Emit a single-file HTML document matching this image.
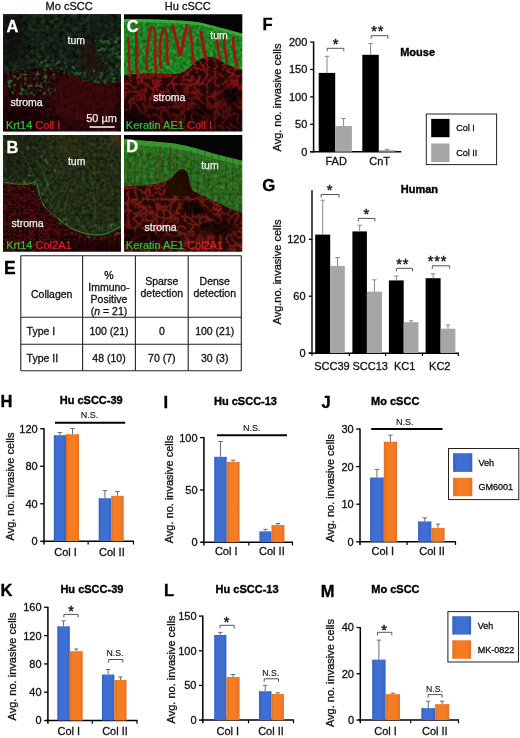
<!DOCTYPE html>
<html><head><meta charset="utf-8"><title>Figure</title>
<style>html,body{margin:0;padding:0;background:#fff;}body{width:520px;height:738px;overflow:hidden;}svg{display:block;}</style>
</head><body>
<svg width="520" height="738" viewBox="0 0 520 738" font-family="'Liberation Sans', Arial, Helvetica, sans-serif">
<defs>
<linearGradient id="gb" x1="0" x2="1" y1="0" y2="0"><stop offset="0" stop-color="#3462bd"/><stop offset="0.25" stop-color="#3f6fd2"/><stop offset="0.75" stop-color="#3f6fd2"/><stop offset="1" stop-color="#3462bd"/></linearGradient>
<linearGradient id="go" x1="0" x2="1" y1="0" y2="0"><stop offset="0" stop-color="#e0702a"/><stop offset="0.25" stop-color="#f57c22"/><stop offset="0.75" stop-color="#f57c22"/><stop offset="1" stop-color="#e0702a"/></linearGradient>
</defs>
<rect x="0" y="0" width="520" height="738" fill="#fff" />
<text x="69.1" y="9.7" font-size="11" font-weight="400" text-anchor="middle" fill="#111" stroke="#111" stroke-width="0.3" >Mo cSCC</text>
<text x="187.7" y="9.7" font-size="11" font-weight="400" text-anchor="middle" fill="#111" stroke="#111" stroke-width="0.3" >Hu cSCC</text>
<g id="micro"><defs>
<filter id="bAgrn" x="0" y="0" width="1" height="1" filterUnits="objectBoundingBox" color-interpolation-filters="sRGB"><feTurbulence type="fractalNoise" baseFrequency="0.25" numOctaves="2" seed="31"/><feColorMatrix type="matrix" values="0 0 0 0 0.157  0 0 0 0 0.392  0 0 0 0 0.176  4 0 0 0 -2.000"/></filter>
<filter id="bAred" x="0" y="0" width="1" height="1" filterUnits="objectBoundingBox" color-interpolation-filters="sRGB"><feTurbulence type="fractalNoise" baseFrequency="0.3" numOctaves="2" seed="32"/><feColorMatrix type="matrix" values="0 0 0 0 0.431  0 0 0 0 0.078  0 0 0 0 0.086  6 0 0 0 -3.480"/></filter>
<filter id="bBgrn" x="0" y="0" width="1" height="1" filterUnits="objectBoundingBox" color-interpolation-filters="sRGB"><feTurbulence type="fractalNoise" baseFrequency="0.22" numOctaves="2" seed="33"/><feColorMatrix type="matrix" values="0 0 0 0 0.176  0 0 0 0 0.451  0 0 0 0 0.188  3.5 0 0 0 -1.925"/></filter>
<filter id="nAstr" x="0" y="0" width="1" height="1" filterUnits="objectBoundingBox" color-interpolation-filters="sRGB"><feTurbulence type="turbulence" baseFrequency="0.2" numOctaves="2" seed="35"/><feColorMatrix type="matrix" values="-0.900 0 0 0 0.333  -0.100 0 0 0 0.047  -0.100 0 0 0 0.055  0 0 0 0 1"/><feGaussianBlur stdDeviation="0.6"/></filter>
<filter id="nBstr" x="0" y="0" width="1" height="1" filterUnits="objectBoundingBox" color-interpolation-filters="sRGB"><feTurbulence type="turbulence" baseFrequency="0.2" numOctaves="2" seed="36"/><feColorMatrix type="matrix" values="-1.000 0 0 0 0.392  -0.120 0 0 0 0.055  -0.120 0 0 0 0.063  0 0 0 0 1"/><feGaussianBlur stdDeviation="0.6"/></filter>
<filter id="nCstr" x="0" y="0" width="1" height="1" filterUnits="objectBoundingBox" color-interpolation-filters="sRGB"><feTurbulence type="turbulence" baseFrequency="0.13" numOctaves="2" seed="3"/><feColorMatrix type="matrix" values="-1.250 0 0 0 0.588  -0.200 0 0 0 0.094  -0.180 0 0 0 0.086  0 0 0 0 1"/><feGaussianBlur stdDeviation="0.6"/></filter>
<filter id="nDstr" x="0" y="0" width="1" height="1" filterUnits="objectBoundingBox" color-interpolation-filters="sRGB"><feTurbulence type="turbulence" baseFrequency="0.14" numOctaves="2" seed="21"/><feColorMatrix type="matrix" values="-1.200 0 0 0 0.549  -0.240 0 0 0 0.118  -0.180 0 0 0 0.086  0 0 0 0 1"/><feGaussianBlur stdDeviation="0.6"/></filter>
<filter id="tAtop" x="0" y="0" width="1" height="1" filterUnits="objectBoundingBox" color-interpolation-filters="sRGB"><feTurbulence type="fractalNoise" baseFrequency="0.22" numOctaves="3" seed="2"/><feColorMatrix type="matrix" values="0.140 0 0 0 0.008  0.300 0 0 0 -0.025  0.140 0 0 0 0.012  0 0 0 0 1"/></filter>
<filter id="tAbot" x="0" y="0" width="1" height="1" filterUnits="objectBoundingBox" color-interpolation-filters="sRGB"><feTurbulence type="fractalNoise" baseFrequency="0.25" numOctaves="3" seed="4"/><feColorMatrix type="matrix" values="0.350 0 0 0 -0.034  0.050 0 0 0 -0.001  0.060 0 0 0 0.005  0 0 0 0 1"/></filter>
<filter id="tBtum" x="0" y="0" width="1" height="1" filterUnits="objectBoundingBox" color-interpolation-filters="sRGB"><feTurbulence type="fractalNoise" baseFrequency="0.28" numOctaves="3" seed="6"/><feColorMatrix type="matrix" values="0.180 0 0 0 0.043  0.280 0 0 0 0.033  0.100 0 0 0 0.032  0 0 0 0 1"/></filter>
<filter id="tBstr" x="0" y="0" width="1" height="1" filterUnits="objectBoundingBox" color-interpolation-filters="sRGB"><feTurbulence type="fractalNoise" baseFrequency="0.32" numOctaves="3" seed="7"/><feColorMatrix type="matrix" values="0.400 0 0 0 -0.012  0.050 0 0 0 0.010  0.050 0 0 0 0.018  0 0 0 0 1"/></filter>
<filter id="tCgrn" x="0" y="0" width="1" height="1" filterUnits="objectBoundingBox" color-interpolation-filters="sRGB"><feTurbulence type="fractalNoise" baseFrequency="0.3" numOctaves="3" seed="9"/><feColorMatrix type="matrix" values="0.140 0 0 0 0.055  0.500 0 0 0 0.252  0.140 0 0 0 0.063  0 0 0 0 1"/></filter>
<filter id="tCstr" x="0" y="0" width="1" height="1" filterUnits="objectBoundingBox" color-interpolation-filters="sRGB"><feTurbulence type="fractalNoise" baseFrequency="0.25" numOctaves="3" seed="10"/><feColorMatrix type="matrix" values="0.500 0 0 0 -0.054  0.060 0 0 0 0.009  0.060 0 0 0 0.017  0 0 0 0 1"/></filter>
<filter id="tDgrn" x="0" y="0" width="1" height="1" filterUnits="objectBoundingBox" color-interpolation-filters="sRGB"><feTurbulence type="fractalNoise" baseFrequency="0.28" numOctaves="3" seed="12"/><feColorMatrix type="matrix" values="0.160 0 0 0 0.093  0.400 0 0 0 0.208  0.100 0 0 0 0.068  0 0 0 0 1"/></filter>
<filter id="tDstr" x="0" y="0" width="1" height="1" filterUnits="objectBoundingBox" color-interpolation-filters="sRGB"><feTurbulence type="fractalNoise" baseFrequency="0.25" numOctaves="3" seed="13"/><feColorMatrix type="matrix" values="0.500 0 0 0 -0.023  0.070 0 0 0 0.016  0.060 0 0 0 0.017  0 0 0 0 1"/></filter>
<filter id="blur1" x="-0.2" y="-0.2" width="1.4" height="1.4"><feGaussianBlur stdDeviation="0.6"/></filter>
<filter id="blur2" x="-0.3" y="-0.3" width="1.6" height="1.6"><feGaussianBlur stdDeviation="1.5"/></filter>
<filter id="blur3" x="-0.3" y="-0.3" width="1.6" height="1.6"><feGaussianBlur stdDeviation="3"/></filter>
<linearGradient id="gdark" x1="0" x2="0" y1="0" y2="1"><stop offset="0" stop-color="#000" stop-opacity="0"/><stop offset="1" stop-color="#000" stop-opacity="0.5"/></linearGradient>
<clipPath id="cA"><rect x="3" y="14.2" width="118" height="117.3"/></clipPath>
<clipPath id="cC"><rect x="124" y="14.2" width="118.3" height="117.3"/></clipPath>
<clipPath id="cB"><rect x="3" y="135" width="118" height="116.7"/></clipPath>
<clipPath id="cD"><rect x="124" y="135" width="118.3" height="116.7"/></clipPath>
<clipPath id="kAT"><path d="M3 14V72C15 71 28 69 42 68C55 67 66 71 78 77C90 83 104 84 121 80V14Z"/></clipPath>
<clipPath id="kBT"><path d="M3 135H121V228C115 232 108 236 96 236C85 235 75 232 66 225C56 216 47 208 42 198C38 190 36 185 30 184C20 183 10 183 3 183Z"/></clipPath>
<clipPath id="kCG"><path d="M124 19C135 19 150 19 170 20C190 21 200 22 210 25C218 27 230 30 243 34V70C236 68 230 66 224 63C220 60 215 57 210 57C204 57 198 60 194 63C188 70 182 74 175 74C160 73 145 73 124 75Z"/></clipPath>
<clipPath id="kDG"><path d="M124 139C140 140 155 142 170 143C185 145 195 148 205 151C215 154 230 158 243 161V213C235 211 228 208 221 204C212 200 205 197 197 193C193 191 191 189 190 185L189 177C188 173 186 170 183 169C180 169 177 171 174 175C170 180 166 182 160 183C150 185 140 186 124 186Z"/></clipPath>
</defs>
<g clip-path="url(#cA)">
<rect x="3" y="14.2" width="118" height="117.3" filter="url(#tAbot)"/>
<ellipse cx="85" cy="98" rx="34" ry="26" fill="#5a0c10" opacity="0.35" filter="url(#blur3)"/>
<ellipse cx="18" cy="120" rx="22" ry="14" fill="#070101" opacity="0.5" filter="url(#blur3)"/>
<g clip-path="url(#kAT)"><rect x="3" y="14.2" width="118" height="70" filter="url(#tAtop)"/></g>
<path d="M3 14H24V56L3 62Z" fill="#080a08" opacity="0.7" filter="url(#blur3)"/>
<path d="M82 34C90 40 96 46 100 58L104 80L86 78C84 64 80 50 82 34Z" fill="#2a080a" opacity="0.65" filter="url(#blur3)"/>
<clipPath id="kAband"><path d="M40 60C55 58 65 62 78 68C90 72 100 70 121 62V82C104 86 90 84 78 79C66 73 55 70 40 72Z"/><path d="M6 72C20 70 40 70 56 74V96C40 98 20 96 6 92Z"/><path d="M95 40L121 36V62L100 64Z"/></clipPath>
<g clip-path="url(#kAband)"><rect x="3" y="30" width="118" height="70" filter="url(#bAgrn)"/></g>
</g>
<text x="6.6" y="31.8" font-size="16.5" font-weight="700" fill="#fff" stroke="#fff" stroke-width="0.3">A</text>
<text x="67.5" y="43.5" font-size="10.5" font-weight="400" fill="#f2f2f2" stroke="#f2f2f2" stroke-width="0.25">tum</text>
<text x="10.6" y="106" font-size="10.5" font-weight="400" fill="#f2f2f2" stroke="#f2f2f2" stroke-width="0.25">stroma</text>
<text x="6" y="129.4" font-size="11" fill="#2ec43a" stroke="#2ec43a" stroke-width="0.2">Krt14 <tspan fill="#d8222a" stroke="#d8222a">Coll I</tspan></text>
<text x="86.2" y="122.4" font-size="11" font-weight="400" fill="#f4eaea" stroke="#f4eaea" stroke-width="0.25">50 µm</text>
<rect x="89.5" y="126.2" width="25.2" height="1.6" fill="#f4eaea"/>
<g clip-path="url(#cC)">
<rect x="124" y="14.2" width="118.3" height="117.3" fill="#2a0607"/>
<rect x="124" y="14.2" width="118.3" height="117.3" filter="url(#nCstr)" style="mix-blend-mode:lighten"/>
<rect x="124" y="80" width="118.3" height="52" fill="url(#gdark)"/>
<path d="M124 112C135 110 145 114 150 120V132H124Z" fill="#050101" opacity="0.7" filter="url(#blur2)"/>
<ellipse cx="232" cy="95" rx="10" ry="8" fill="#050101" opacity="0.6" filter="url(#blur2)"/>
<ellipse cx="200" cy="112" rx="12" ry="5" fill="#050101" opacity="0.4" filter="url(#blur2)"/>
<path d="M124 14H243V34C230 30 218 27 210 25C200 22 190 21 170 20C150 19 135 19 124 19Z" fill="#040404"/>
<g clip-path="url(#kCG)"><rect x="124" y="14.2" width="118.3" height="62" filter="url(#tCgrn)"/></g>
<path d="M124 19C135 19 150 19 170 20C190 21 200 22 210 25C218 27 230 30 243 34V37C230 33 218 30 210 28C200 25 190 24 170 23C150 22 135 22 124 22Z" fill="#34b83a" opacity="0.8" filter="url(#blur1)"/>
<path d="M137 28C134 40 139 50 136 62C135 68 138 72 139 76" stroke="#9c1814" stroke-width="3.6" fill="none" stroke-linecap="round" opacity="1" filter="url(#blur1)"/>
<path d="M147 70C146 55 148 40 151 28C153 26 155 28 155 34C156 46 154 58 156 72" stroke="#9c1814" stroke-width="2.6" fill="none" stroke-linecap="round" opacity="1" filter="url(#blur1)"/>
<path d="M161 68C159 55 160 40 163 30C165 28 167 32 167 40C168 50 166 56 168 64" stroke="#9c1814" stroke-width="2.6" fill="none" stroke-linecap="round" opacity="1" filter="url(#blur1)"/>
<path d="M173 26C175 36 178 46 180 56C183 46 184 36 187 26" stroke="#9c1814" stroke-width="3.2" fill="none" stroke-linecap="round" opacity="1" filter="url(#blur1)"/>
<path d="M190 28C192 40 192 50 194 64" stroke="#9c1814" stroke-width="2.6" fill="none" stroke-linecap="round" opacity="1" filter="url(#blur1)"/>
<path d="M201 33C203 42 203 50 206 58" stroke="#9c1814" stroke-width="3.4" fill="none" stroke-linecap="round" opacity="1" filter="url(#blur1)"/>
<path d="M216 36C218 44 218 52 220 60" stroke="#9c1814" stroke-width="2.6" fill="none" stroke-linecap="round" opacity="1" filter="url(#blur1)"/>
<path d="M224 38C224 46 226 54 227 62" stroke="#9c1814" stroke-width="3" fill="none" stroke-linecap="round" opacity="1" filter="url(#blur1)"/>
<path d="M233 38C233 48 235 56 237 66" stroke="#9c1814" stroke-width="2.8" fill="none" stroke-linecap="round" opacity="1" filter="url(#blur1)"/>
<path d="M128 38C130 50 128 62 130 75" stroke="#9c1814" stroke-width="2.2" fill="none" stroke-linecap="round" opacity="1" filter="url(#blur1)"/>
</g>
<text x="126.8" y="32.2" font-size="16.5" font-weight="700" fill="#fff" stroke="#fff" stroke-width="0.3">C</text>
<text x="210.3" y="38.8" font-size="10.5" font-weight="400" fill="#f2f2f2" stroke="#f2f2f2" stroke-width="0.25">tum</text>
<text x="153.3" y="101" font-size="10.5" font-weight="400" fill="#f2f2f2" stroke="#f2f2f2" stroke-width="0.25">stroma</text>
<text x="125.8" y="129.3" font-size="11" fill="#2ec43a" stroke="#2ec43a" stroke-width="0.2">Keratin AE1 <tspan fill="#c4202a" stroke="#c4202a">Coll I</tspan></text>
<g clip-path="url(#cB)">
<rect x="3" y="135" width="118" height="116.7" fill="#220507"/>
<rect x="3" y="135" width="118" height="116.7" filter="url(#nBstr)" style="mix-blend-mode:lighten"/>
<g clip-path="url(#kBT)"><rect x="3" y="135" width="118" height="102" filter="url(#tBtum)"/></g>
<path d="M3 135H40V178L3 180Z" fill="#0a0d09" opacity="0.25" filter="url(#blur3)"/>
<ellipse cx="68" cy="148" rx="10" ry="12" fill="#4a3010" opacity="0.3" filter="url(#blur3)"/>
<ellipse cx="116" cy="140" rx="8" ry="6" fill="#5a3a10" opacity="0.5" filter="url(#blur3)"/>
<clipPath id="kBband"><path d="M3 176C15 176 28 176 40 172L48 182C52 196 60 206 70 214C80 222 95 228 121 220V234C100 242 80 240 66 230C54 220 44 210 38 196C34 190 20 188 3 190Z"/><path d="M20 140L40 150L60 175L50 180Z"/></clipPath>
<g clip-path="url(#kBband)"><rect x="3" y="135" width="118" height="110" filter="url(#bBgrn)"/></g>
<path d="M3 182.5C10 183 18 185 28 184C33 183 35 182 36 180M37 184C38 190 40 198 44 206C50 213 56 216 62 222C68 227 75 231 84 233C92 235 100 236 108 233C113 231 117 228 121 226" stroke="#3aa844" stroke-width="1" fill="none" opacity="0.7" filter="url(#blur1)"/>
<path d="M60 170C58 176 54 182 48 186M75 180C70 190 66 200 64 210M36 160C40 165 44 170 45 180M20 150C26 160 30 168 34 176M90 175C94 190 96 205 95 220" stroke="#2a7a30" stroke-width="1" fill="none" opacity="0.45" filter="url(#blur1)"/>
<path d="M60 236C75 242 95 244 121 240V252H60Z" fill="#100203" opacity="0.5" filter="url(#blur2)"/>
</g>
<text x="6.4" y="152.5" font-size="16.5" font-weight="700" fill="#fff" stroke="#fff" stroke-width="0.3">B</text>
<text x="67.9" y="164.6" font-size="10.5" font-weight="400" fill="#f2f2f2" stroke="#f2f2f2" stroke-width="0.25">tum</text>
<text x="11.5" y="227" font-size="10.5" font-weight="400" fill="#f2f2f2" stroke="#f2f2f2" stroke-width="0.25">stroma</text>
<text x="6.2" y="249.4" font-size="11" fill="#2ec43a" stroke="#2ec43a" stroke-width="0.2">Krt14 <tspan fill="#d8222a" stroke="#d8222a">Col2A1</tspan></text>
<g clip-path="url(#cD)">
<rect x="124" y="135" width="118.3" height="116.7" fill="#2a0807"/>
<rect x="124" y="135" width="118.3" height="116.7" filter="url(#nDstr)" style="mix-blend-mode:lighten"/>
<path d="M182 200C195 202 205 206 212 212C205 216 195 214 182 212Z" fill="#060101" opacity="0.75" filter="url(#blur2)"/>
<ellipse cx="218" cy="228" rx="20" ry="7" fill="#060101" opacity="0.6" filter="url(#blur2)"/>
<path d="M124 228C140 232 160 235 184 236V246H124Z" fill="#060101" opacity="0.55" filter="url(#blur2)"/>
<path d="M168 184C172 178 176 170 182 168C187 168 189 174 190 180L194 194C188 198 178 198 166 192Z" fill="#1e0c06" opacity="0.85" filter="url(#blur1)"/>
<path d="M124 135H243V161C230 158 215 154 205 151C195 148 185 145 170 143C155 142 140 140 124 139Z" fill="#040404"/>
<g clip-path="url(#kDG)"><rect x="124" y="135" width="118.3" height="80" filter="url(#tDgrn)"/></g>
<path d="M124 139C140 140 155 142 170 143C185 145 195 148 205 151C215 154 230 158 243 161V166C230 163 215 159 205 156C195 153 185 150 170 148C155 147 140 145 124 144Z" fill="#3a9e30" opacity="0.85" filter="url(#blur1)"/>
<path d="M124 144C140 145 155 147 170 148C185 150 195 153 205 156C215 159 230 163 243 166V172C230 169 215 165 205 162C195 159 185 156 170 154C155 153 140 151 124 150Z" fill="#2e7e26" opacity="0.5" filter="url(#blur2)"/>
<g clip-path="url(#kDG)">
<path d="M128 150V215" stroke="#1c3a12" stroke-width="1.2" opacity="0.35"/>
<path d="M135 150V215" stroke="#1c3a12" stroke-width="1.2" opacity="0.35"/>
<path d="M142 150V215" stroke="#1c3a12" stroke-width="1.2" opacity="0.35"/>
<path d="M149 150V215" stroke="#1c3a12" stroke-width="1.2" opacity="0.35"/>
<path d="M156 150V215" stroke="#1c3a12" stroke-width="1.2" opacity="0.35"/>
<path d="M163 150V215" stroke="#1c3a12" stroke-width="1.2" opacity="0.35"/>
<path d="M170 150V215" stroke="#1c3a12" stroke-width="1.2" opacity="0.35"/>
<path d="M177 150V215" stroke="#1c3a12" stroke-width="1.2" opacity="0.35"/>
<path d="M184 150V215" stroke="#1c3a12" stroke-width="1.2" opacity="0.35"/>
<path d="M191 150V215" stroke="#1c3a12" stroke-width="1.2" opacity="0.35"/>
<path d="M198 150V215" stroke="#1c3a12" stroke-width="1.2" opacity="0.35"/>
<path d="M205 150V215" stroke="#1c3a12" stroke-width="1.2" opacity="0.35"/>
<path d="M212 150V215" stroke="#1c3a12" stroke-width="1.2" opacity="0.35"/>
<path d="M219 150V215" stroke="#1c3a12" stroke-width="1.2" opacity="0.35"/>
<path d="M226 150V215" stroke="#1c3a12" stroke-width="1.2" opacity="0.35"/>
<path d="M233 150V215" stroke="#1c3a12" stroke-width="1.2" opacity="0.35"/>
<path d="M240 150V215" stroke="#1c3a12" stroke-width="1.2" opacity="0.35"/>
</g>
<path d="M170 146C171 155 172 165 176 172M160 146C160 158 158 170 160 180" stroke="#5a3014" stroke-width="2.2" fill="none" opacity="0.45" filter="url(#blur1)"/>
</g>
<text x="126.3" y="152.4" font-size="16.5" font-weight="700" fill="#fff" stroke="#fff" stroke-width="0.3">D</text>
<text x="201.2" y="168.5" font-size="10.5" font-weight="400" fill="#f2f2f2" stroke="#f2f2f2" stroke-width="0.25">tum</text>
<text x="144.6" y="231.3" font-size="10.5" font-weight="400" fill="#f2f2f2" stroke="#f2f2f2" stroke-width="0.25">stroma</text>
<text x="125.8" y="249.4" font-size="11" fill="#2ec43a" stroke="#2ec43a" stroke-width="0.2">Keratin AE1 <tspan fill="#d8222a" stroke="#d8222a">Col2A1</tspan></text></g>
<text x="4" y="273.8" font-size="17.5" font-weight="700" text-anchor="start" fill="#000" stroke="#000" stroke-width="0.35" >E</text>
<line x1="20.8" y1="255.8" x2="20.8" y2="370.7" stroke="#222" stroke-width="1.1"/>
<line x1="82.6" y1="255.8" x2="82.6" y2="370.7" stroke="#222" stroke-width="1.1"/>
<line x1="135.4" y1="255.8" x2="135.4" y2="370.7" stroke="#222" stroke-width="1.1"/>
<line x1="188.2" y1="255.8" x2="188.2" y2="370.7" stroke="#222" stroke-width="1.1"/>
<line x1="241.3" y1="255.8" x2="241.3" y2="370.7" stroke="#222" stroke-width="1.1"/>
<line x1="20.8" y1="255.8" x2="241.3" y2="255.8" stroke="#222" stroke-width="1.1"/>
<line x1="20.8" y1="317.3" x2="241.3" y2="317.3" stroke="#222" stroke-width="1.1"/>
<line x1="20.8" y1="344.2" x2="241.3" y2="344.2" stroke="#222" stroke-width="1.1"/>
<line x1="20.8" y1="370.7" x2="241.3" y2="370.7" stroke="#222" stroke-width="1.1"/>
<text x="51.699999999999996" y="298" font-size="10.5" font-weight="400" text-anchor="middle" fill="#111" stroke="#111" stroke-width="0.3" >Collagen</text>
<text x="109.0" y="278.6" font-size="10.5" font-weight="400" text-anchor="middle" fill="#111" stroke="#111" stroke-width="0.3" >%</text>
<text x="109.0" y="290.8" font-size="10.5" font-weight="400" text-anchor="middle" fill="#111" stroke="#111" stroke-width="0.3" >Immuno-</text>
<text x="109.0" y="302.9" font-size="10.5" font-weight="400" text-anchor="middle" fill="#111" stroke="#111" stroke-width="0.3" >Positive</text>
<text x="109.0" y="315" font-size="10.5" font-weight="400" text-anchor="middle" fill="#111" stroke="#111" stroke-width="0.3" >(<tspan font-style="italic">n</tspan> = 21)</text>
<text x="161.8" y="285" font-size="10.5" font-weight="400" text-anchor="middle" fill="#111" stroke="#111" stroke-width="0.3" >Sparse</text>
<text x="161.8" y="296.5" font-size="10.5" font-weight="400" text-anchor="middle" fill="#111" stroke="#111" stroke-width="0.3" >detection</text>
<text x="214.75" y="285" font-size="10.5" font-weight="400" text-anchor="middle" fill="#111" stroke="#111" stroke-width="0.3" >Dense</text>
<text x="214.75" y="296.5" font-size="10.5" font-weight="400" text-anchor="middle" fill="#111" stroke="#111" stroke-width="0.3" >detection</text>
<text x="26.6" y="335.4" font-size="10.5" font-weight="400" text-anchor="start" fill="#111" stroke="#111" stroke-width="0.3" >Type I</text>
<text x="109.0" y="335.4" font-size="10.5" font-weight="400" text-anchor="middle" fill="#111" stroke="#111" stroke-width="0.3" >100 (21)</text>
<text x="161.8" y="335.4" font-size="10.5" font-weight="400" text-anchor="middle" fill="#111" stroke="#111" stroke-width="0.3" >0</text>
<text x="214.75" y="335.4" font-size="10.5" font-weight="400" text-anchor="middle" fill="#111" stroke="#111" stroke-width="0.3" >100 (21)</text>
<text x="26.6" y="362" font-size="10.5" font-weight="400" text-anchor="start" fill="#111" stroke="#111" stroke-width="0.3" >Type II</text>
<text x="109.0" y="362" font-size="10.5" font-weight="400" text-anchor="middle" fill="#111" stroke="#111" stroke-width="0.3" >48 (10)</text>
<text x="161.8" y="362" font-size="10.5" font-weight="400" text-anchor="middle" fill="#111" stroke="#111" stroke-width="0.3" >70 (7)</text>
<text x="214.75" y="362" font-size="10.5" font-weight="400" text-anchor="middle" fill="#111" stroke="#111" stroke-width="0.3" >30 (3)</text>
<text x="262.6" y="30.3" font-size="16.5" font-weight="700" text-anchor="start" fill="#000" stroke="#000" stroke-width="0.35" >F</text>
<line x1="313.6" y1="41.599999999999994" x2="313.6" y2="152.39999999999998" stroke="#000" stroke-width="1.5"/>
<line x1="310.2" y1="151.7" x2="313.6" y2="151.7" stroke="#000" stroke-width="1.3"/>
<text x="307.3" y="155.6" font-size="11" font-weight="400" text-anchor="end" fill="#111" stroke="#111" stroke-width="0.3" >0</text>
<line x1="310.2" y1="124.29999999999998" x2="313.6" y2="124.29999999999998" stroke="#000" stroke-width="1.3"/>
<text x="307.3" y="128.2" font-size="11" font-weight="400" text-anchor="end" fill="#111" stroke="#111" stroke-width="0.3" >50</text>
<line x1="310.2" y1="96.89999999999999" x2="313.6" y2="96.89999999999999" stroke="#000" stroke-width="1.3"/>
<text x="307.3" y="100.8" font-size="11" font-weight="400" text-anchor="end" fill="#111" stroke="#111" stroke-width="0.3" >100</text>
<line x1="310.2" y1="69.49999999999999" x2="313.6" y2="69.49999999999999" stroke="#000" stroke-width="1.3"/>
<text x="307.3" y="73.39999999999999" font-size="11" font-weight="400" text-anchor="end" fill="#111" stroke="#111" stroke-width="0.3" >150</text>
<line x1="310.2" y1="42.099999999999994" x2="313.6" y2="42.099999999999994" stroke="#000" stroke-width="1.3"/>
<text x="307.3" y="45.99999999999999" font-size="11" font-weight="400" text-anchor="end" fill="#111" stroke="#111" stroke-width="0.3" >200</text>
<line x1="310.2" y1="151.7" x2="401.2" y2="151.7" stroke="#000" stroke-width="1.5"/>
<text x="0" y="0" font-size="11" fill="#111" stroke="#111" stroke-width="0.3" transform="translate(280.9 151.5) rotate(-90)">Avg. no. invasive cells</text>
<rect x="318.7" y="72.9" width="16.5" height="78.79999999999998" fill="#000" />
<rect x="335.2" y="126" width="16.7" height="25.69999999999999" fill="#a6a6a6" />
<rect x="362.3" y="54.8" width="16.5" height="96.89999999999999" fill="#000" />
<rect x="378.8" y="150.2" width="16.5" height="1.5" fill="#a6a6a6" />
<path d="M327 72.9V56.3M324.8 56.3H329.2" fill="none" stroke="#888" stroke-width="1"/>
<path d="M343.6 126V118.5M341.40000000000003 118.5H345.8" fill="none" stroke="#888" stroke-width="1"/>
<path d="M370.6 54.8V43.6M368.40000000000003 43.6H372.8" fill="none" stroke="#888" stroke-width="1"/>
<path d="M387 150.5V149.3M384.8 149.3H389.2" fill="none" stroke="#888" stroke-width="1"/>
<path d="M327.2 51.3V48.3H343.8V51.3" fill="none" stroke="#555" stroke-width="1"/>
<text x="335.6" y="49.2" font-size="14.5" font-weight="400" text-anchor="middle" fill="#111" stroke="#111" stroke-width="0.45" >*</text>
<path d="M371.2 38.7V35.7H387.8V38.7" fill="none" stroke="#555" stroke-width="1"/>
<text x="377.84999999999997" y="36.1" font-size="14.5" font-weight="400" text-anchor="middle" fill="#111" stroke="#111" stroke-width="0.45" letter-spacing="0.9">**</text>
<text x="336.2" y="164.8" font-size="11" font-weight="400" text-anchor="middle" fill="#111" stroke="#111" stroke-width="0.3" >FAD</text>
<text x="379.7" y="164.8" font-size="11" font-weight="400" text-anchor="middle" fill="#111" stroke="#111" stroke-width="0.3" >CnT</text>
<text x="400.2" y="56.4" font-size="11" font-weight="700" text-anchor="start" fill="#000" stroke="#000" stroke-width="0.35" >Mouse</text>
<rect x="426.3" y="114" width="70.3" height="50.6" fill="none" stroke="#222" stroke-width="1"/>
<rect x="431.2" y="118.9" width="18.3" height="18.3" fill="#000" />
<rect x="431.2" y="143.5" width="18.3" height="18.5" fill="#a6a6a6" />
<text x="456.2" y="131.2" font-size="9" font-weight="400" text-anchor="start" fill="#111" stroke="#111" stroke-width="0.3" >Col I</text>
<text x="456.2" y="156" font-size="9" font-weight="400" text-anchor="start" fill="#111" stroke="#111" stroke-width="0.3" >Col II</text>
<text x="262.3" y="191.4" font-size="16.8" font-weight="700" text-anchor="start" fill="#000" stroke="#000" stroke-width="0.35" >G</text>
<line x1="312" y1="190.2" x2="312" y2="355.6" stroke="#000" stroke-width="1.4"/>
<line x1="308.8" y1="353.1" x2="312" y2="353.1" stroke="#000" stroke-width="1.3"/>
<text x="305.6" y="357.0" font-size="11" font-weight="400" text-anchor="end" fill="#111" stroke="#111" stroke-width="0.3" >0</text>
<line x1="308.8" y1="296.2" x2="312" y2="296.2" stroke="#000" stroke-width="1.3"/>
<text x="305.6" y="300.09999999999997" font-size="11" font-weight="400" text-anchor="end" fill="#111" stroke="#111" stroke-width="0.3" >60</text>
<line x1="308.8" y1="239.29999999999995" x2="312" y2="239.29999999999995" stroke="#000" stroke-width="1.3"/>
<text x="305.6" y="243.19999999999996" font-size="11" font-weight="400" text-anchor="end" fill="#111" stroke="#111" stroke-width="0.3" >120</text>
<line x1="308.8" y1="353.3" x2="458.8" y2="353.3" stroke="#000" stroke-width="1.5"/>
<line x1="349.3" y1="353.1" x2="349.3" y2="356" stroke="#000" stroke-width="1.2"/>
<line x1="385.6" y1="353.1" x2="385.6" y2="356" stroke="#000" stroke-width="1.2"/>
<line x1="422.5" y1="353.1" x2="422.5" y2="356" stroke="#000" stroke-width="1.2"/>
<line x1="458.3" y1="353.1" x2="458.3" y2="356" stroke="#000" stroke-width="1.2"/>
<text x="0" y="0" font-size="11" fill="#111" stroke="#111" stroke-width="0.3" transform="translate(280.9 324.5) rotate(-90)">Avg.no. invasive cells</text>
<rect x="315.2" y="234.6" width="15.0" height="118.50000000000003" fill="#000" />
<rect x="330.2" y="265.9" width="14.600000000000023" height="87.20000000000005" fill="#a6a6a6" />
<path d="M322.7 234.6V200.2M320.5 200.2H324.9" fill="none" stroke="#888" stroke-width="1"/>
<path d="M337.5 265.9V257.5M335.3 257.5H339.7" fill="none" stroke="#888" stroke-width="1"/>
<rect x="352.4" y="231.4" width="14.5" height="121.70000000000002" fill="#000" />
<rect x="366.9" y="291.7" width="15.100000000000023" height="61.400000000000034" fill="#a6a6a6" />
<path d="M359.65 231.4V225.2M357.45 225.2H361.84999999999997" fill="none" stroke="#888" stroke-width="1"/>
<path d="M374.45 291.7V279.8M372.25 279.8H376.65" fill="none" stroke="#888" stroke-width="1"/>
<rect x="388.9" y="280.4" width="14.800000000000011" height="72.70000000000005" fill="#000" />
<rect x="403.7" y="322.2" width="14.800000000000011" height="30.900000000000034" fill="#a6a6a6" />
<path d="M396.29999999999995 280.4V276.1M394.09999999999997 276.1H398.49999999999994" fill="none" stroke="#888" stroke-width="1"/>
<path d="M411.1 322.2V320.8M408.90000000000003 320.8H413.3" fill="none" stroke="#888" stroke-width="1"/>
<rect x="425.6" y="278.2" width="15.0" height="74.90000000000003" fill="#000" />
<rect x="440.6" y="328.7" width="14.799999999999955" height="24.400000000000034" fill="#a6a6a6" />
<path d="M433.1 278.2V273.8M430.90000000000003 273.8H435.3" fill="none" stroke="#888" stroke-width="1"/>
<path d="M448.0 328.7V325M445.8 325H450.2" fill="none" stroke="#888" stroke-width="1"/>
<path d="M321.1 197.5V194.5H339V197.5" fill="none" stroke="#555" stroke-width="1"/>
<text x="329.5" y="194.7" font-size="14.5" font-weight="400" text-anchor="middle" fill="#111" stroke="#111" stroke-width="0.45" >*</text>
<path d="M358.3 221.4V218.4H374.9V221.4" fill="none" stroke="#555" stroke-width="1"/>
<text x="366.4" y="218.9" font-size="14.5" font-weight="400" text-anchor="middle" fill="#111" stroke="#111" stroke-width="0.45" >*</text>
<path d="M396.4 271.3V268.3H412.5V271.3" fill="none" stroke="#555" stroke-width="1"/>
<text x="402.75" y="268.8" font-size="14.5" font-weight="400" text-anchor="middle" fill="#111" stroke="#111" stroke-width="0.45" letter-spacing="0.9">**</text>
<path d="M432.3 268.8V265.8H449.6V268.8" fill="none" stroke="#555" stroke-width="1"/>
<text x="437.55" y="265.8" font-size="14.5" font-weight="400" text-anchor="middle" fill="#111" stroke="#111" stroke-width="0.45" letter-spacing="0.9">***</text>
<text x="331.9" y="370.4" font-size="11" font-weight="400" text-anchor="middle" fill="#111" stroke="#111" stroke-width="0.3" >SCC39</text>
<text x="370.2" y="370.4" font-size="11" font-weight="400" text-anchor="middle" fill="#111" stroke="#111" stroke-width="0.3" >SCC13</text>
<text x="404.6" y="370.4" font-size="11" font-weight="400" text-anchor="middle" fill="#111" stroke="#111" stroke-width="0.3" >KC1</text>
<text x="439.8" y="370.4" font-size="11" font-weight="400" text-anchor="middle" fill="#111" stroke="#111" stroke-width="0.3" >KC2</text>
<text x="400.8" y="192.8" font-size="11" font-weight="700" text-anchor="start" fill="#000" stroke="#000" stroke-width="0.35" >Human</text>
<text x="0.4" y="407.2" font-size="16.5" font-weight="700" text-anchor="start" fill="#000" stroke="#000" stroke-width="0.35" >H</text>
<text x="91.2" y="404.4" font-size="11" font-weight="700" text-anchor="middle" fill="#000" stroke="#000" stroke-width="0.35" >Hu cSCC-39</text>
<line x1="44" y1="428.2" x2="44" y2="544.5" stroke="#000" stroke-width="1.5"/>
<line x1="40.2" y1="541.3" x2="44" y2="541.3" stroke="#000" stroke-width="1.3"/>
<text x="37.7" y="545.1999999999999" font-size="11" font-weight="400" text-anchor="end" fill="#111" stroke="#111" stroke-width="0.3" >0</text>
<line x1="40.2" y1="503.76666666666665" x2="44" y2="503.76666666666665" stroke="#000" stroke-width="1.3"/>
<text x="37.7" y="507.66666666666663" font-size="11" font-weight="400" text-anchor="end" fill="#111" stroke="#111" stroke-width="0.3" >40</text>
<line x1="40.2" y1="466.23333333333335" x2="44" y2="466.23333333333335" stroke="#000" stroke-width="1.3"/>
<text x="37.7" y="470.1333333333333" font-size="11" font-weight="400" text-anchor="end" fill="#111" stroke="#111" stroke-width="0.3" >80</text>
<line x1="40.2" y1="428.7" x2="44" y2="428.7" stroke="#000" stroke-width="1.3"/>
<text x="37.7" y="432.59999999999997" font-size="11" font-weight="400" text-anchor="end" fill="#111" stroke="#111" stroke-width="0.3" >120</text>
<line x1="42.5" y1="541.3" x2="134" y2="541.3" stroke="#000" stroke-width="1.5"/>
<line x1="88.1" y1="541.3" x2="88.1" y2="544.5" stroke="#000" stroke-width="1.2"/>
<line x1="133.5" y1="541.3" x2="133.5" y2="544.5" stroke="#000" stroke-width="1.2"/>
<rect x="53.8" y="435.2" width="12.200000000000003" height="106.09999999999997" fill="url(#gb)" />
<rect x="66" y="434.2" width="13" height="107.09999999999997" fill="url(#go)" />
<path d="M59.9 435.2V432.5M57.699999999999996 432.5H62.1" fill="none" stroke="#6b6b6b" stroke-width="1"/>
<path d="M72.5 434.2V428.5M70.3 428.5H74.7" fill="none" stroke="#6b6b6b" stroke-width="1"/>
<rect x="98.7" y="498.2" width="12.5" height="43.099999999999966" fill="url(#gb)" />
<rect x="111.2" y="495.8" width="12.5" height="45.49999999999994" fill="url(#go)" />
<path d="M104.95 498.2V490.6M102.75 490.6H107.15" fill="none" stroke="#6b6b6b" stroke-width="1"/>
<path d="M117.45 495.8V491.5M115.25 491.5H119.65" fill="none" stroke="#6b6b6b" stroke-width="1"/>
<text x="65.5" y="555.8" font-size="11" font-weight="400" text-anchor="middle" fill="#111" stroke="#111" stroke-width="0.3" >Col I</text>
<text x="111.9" y="555.8" font-size="11" font-weight="400" text-anchor="middle" fill="#111" stroke="#111" stroke-width="0.3" >Col II</text>
<text x="0" y="0" font-size="11" fill="#111" stroke="#111" stroke-width="0.3" transform="translate(13.7 540.5) rotate(-90)">Avg. no. invasive cells</text>
<line x1="55" y1="422.8" x2="125.2" y2="422.8" stroke="#000" stroke-width="2"/>
<text x="89.5" y="417.8" font-size="9" font-weight="400" text-anchor="middle" fill="#111" stroke="#111" stroke-width="0.12" >N.S.</text>
<text x="163.6" y="407.9" font-size="16.5" font-weight="700" text-anchor="start" fill="#000" stroke="#000" stroke-width="0.35" >I</text>
<text x="245.5" y="405" font-size="11" font-weight="700" text-anchor="middle" fill="#000" stroke="#000" stroke-width="0.35" >Hu cSCC-13</text>
<line x1="203.9" y1="437.1" x2="203.9" y2="545.5" stroke="#000" stroke-width="1.5"/>
<line x1="200.1" y1="542.3" x2="203.9" y2="542.3" stroke="#000" stroke-width="1.3"/>
<text x="197.6" y="546.1999999999999" font-size="11" font-weight="400" text-anchor="end" fill="#111" stroke="#111" stroke-width="0.3" >0</text>
<line x1="200.1" y1="489.95" x2="203.9" y2="489.95" stroke="#000" stroke-width="1.3"/>
<text x="197.6" y="493.84999999999997" font-size="11" font-weight="400" text-anchor="end" fill="#111" stroke="#111" stroke-width="0.3" >50</text>
<line x1="200.1" y1="437.6" x2="203.9" y2="437.6" stroke="#000" stroke-width="1.3"/>
<text x="197.6" y="441.5" font-size="11" font-weight="400" text-anchor="end" fill="#111" stroke="#111" stroke-width="0.3" >100</text>
<line x1="201.7" y1="542.3" x2="293" y2="542.3" stroke="#000" stroke-width="1.5"/>
<line x1="248.8" y1="542.3" x2="248.8" y2="545.5" stroke="#000" stroke-width="1.2"/>
<line x1="292.5" y1="542.3" x2="292.5" y2="545.5" stroke="#000" stroke-width="1.2"/>
<rect x="214.2" y="456.8" width="12.5" height="85.49999999999994" fill="url(#gb)" />
<rect x="226.7" y="461.9" width="12.900000000000006" height="80.39999999999998" fill="url(#go)" />
<path d="M220.45 456.8V441.5M218.25 441.5H222.64999999999998" fill="none" stroke="#6b6b6b" stroke-width="1"/>
<path d="M233.14999999999998 461.9V460.2M230.95 460.2H235.34999999999997" fill="none" stroke="#6b6b6b" stroke-width="1"/>
<rect x="259.4" y="531.3" width="12.100000000000023" height="11.0" fill="url(#gb)" />
<rect x="271.5" y="525" width="12.899999999999977" height="17.299999999999955" fill="url(#go)" />
<path d="M265.45 531.3V529.3M263.25 529.3H267.65" fill="none" stroke="#6b6b6b" stroke-width="1"/>
<path d="M277.95 525V523.5M275.75 523.5H280.15" fill="none" stroke="#6b6b6b" stroke-width="1"/>
<text x="226.2" y="555.2" font-size="11" font-weight="400" text-anchor="middle" fill="#111" stroke="#111" stroke-width="0.3" >Col I</text>
<text x="271.9" y="555.2" font-size="11" font-weight="400" text-anchor="middle" fill="#111" stroke="#111" stroke-width="0.3" >Col II</text>
<text x="0" y="0" font-size="11" fill="#111" stroke="#111" stroke-width="0.3" transform="translate(173.1 543.3) rotate(-90)">Avg. no. invasive cells</text>
<line x1="216.9" y1="435.3" x2="287" y2="435.3" stroke="#000" stroke-width="2"/>
<text x="251.7" y="431" font-size="9" font-weight="400" text-anchor="middle" fill="#111" stroke="#111" stroke-width="0.12" >N.S.</text>
<text x="321.4" y="408.3" font-size="16.5" font-weight="700" text-anchor="start" fill="#000" stroke="#000" stroke-width="0.35" >J</text>
<text x="395.2" y="404.8" font-size="11" font-weight="700" text-anchor="middle" fill="#000" stroke="#000" stroke-width="0.35" >Mo cSCC</text>
<line x1="360" y1="428.5" x2="360" y2="545.0" stroke="#000" stroke-width="1.5"/>
<line x1="356.2" y1="541.8" x2="360" y2="541.8" stroke="#000" stroke-width="1.3"/>
<text x="353.7" y="545.6999999999999" font-size="11" font-weight="400" text-anchor="end" fill="#111" stroke="#111" stroke-width="0.3" >0</text>
<line x1="356.2" y1="504.2" x2="360" y2="504.2" stroke="#000" stroke-width="1.3"/>
<text x="353.7" y="508.09999999999997" font-size="11" font-weight="400" text-anchor="end" fill="#111" stroke="#111" stroke-width="0.3" >10</text>
<line x1="356.2" y1="466.59999999999997" x2="360" y2="466.59999999999997" stroke="#000" stroke-width="1.3"/>
<text x="353.7" y="470.49999999999994" font-size="11" font-weight="400" text-anchor="end" fill="#111" stroke="#111" stroke-width="0.3" >20</text>
<line x1="356.2" y1="429.0" x2="360" y2="429.0" stroke="#000" stroke-width="1.3"/>
<text x="353.7" y="432.9" font-size="11" font-weight="400" text-anchor="end" fill="#111" stroke="#111" stroke-width="0.3" >30</text>
<line x1="358.5" y1="541.8" x2="456" y2="541.8" stroke="#000" stroke-width="1.5"/>
<line x1="407.1" y1="541.8" x2="407.1" y2="545.0" stroke="#000" stroke-width="1.2"/>
<line x1="455.5" y1="541.8" x2="455.5" y2="545.0" stroke="#000" stroke-width="1.2"/>
<rect x="370.1" y="477.5" width="13.699999999999989" height="64.29999999999995" fill="url(#gb)" />
<rect x="383.8" y="441.7" width="13.199999999999989" height="100.09999999999997" fill="url(#go)" />
<path d="M376.95000000000005 477.5V469.4M374.75000000000006 469.4H379.15000000000003" fill="none" stroke="#6b6b6b" stroke-width="1"/>
<path d="M390.4 441.7V435.2M388.2 435.2H392.59999999999997" fill="none" stroke="#6b6b6b" stroke-width="1"/>
<rect x="418.1" y="521.4" width="13.299999999999955" height="20.399999999999977" fill="url(#gb)" />
<rect x="431.4" y="527.9" width="13.200000000000045" height="13.899999999999977" fill="url(#go)" />
<path d="M424.75 521.4V517.9M422.55 517.9H426.95" fill="none" stroke="#6b6b6b" stroke-width="1"/>
<path d="M438.0 527.9V524.1M435.8 524.1H440.2" fill="none" stroke="#6b6b6b" stroke-width="1"/>
<text x="382.8" y="555.1" font-size="11" font-weight="400" text-anchor="middle" fill="#111" stroke="#111" stroke-width="0.3" >Col I</text>
<text x="432.1" y="555.1" font-size="11" font-weight="400" text-anchor="middle" fill="#111" stroke="#111" stroke-width="0.3" >Col II</text>
<text x="0" y="0" font-size="11" fill="#111" stroke="#111" stroke-width="0.3" transform="translate(334.3 541.9) rotate(-90)">Avg. no. invasive cells</text>
<line x1="371.2" y1="429" x2="442.5" y2="429" stroke="#000" stroke-width="2"/>
<text x="404.8" y="424.5" font-size="9" font-weight="400" text-anchor="middle" fill="#111" stroke="#111" stroke-width="0.12" >N.S.</text>
<rect x="448.5" y="448.5" width="70.3" height="51.1" fill="none" stroke="#222" stroke-width="1"/>
<rect x="453.1" y="453.2" width="19.2" height="18.7" fill="url(#gb)" />
<rect x="453.1" y="477.8" width="19.2" height="18.4" fill="url(#go)" />
<text x="478.5" y="465.8" font-size="9" font-weight="400" text-anchor="start" fill="#111" stroke="#111" stroke-width="0.3" >Veh</text>
<text x="478.5" y="490.1" font-size="9" font-weight="400" text-anchor="start" fill="#111" stroke="#111" stroke-width="0.3" >GM6001</text>
<text x="0.4" y="596.3" font-size="16.5" font-weight="700" text-anchor="start" fill="#000" stroke="#000" stroke-width="0.35" >K</text>
<text x="91.9" y="592.5" font-size="11" font-weight="700" text-anchor="middle" fill="#000" stroke="#000" stroke-width="0.35" >Hu cSCC-39</text>
<line x1="47.9" y1="606.8" x2="47.9" y2="723.7" stroke="#000" stroke-width="1.5"/>
<line x1="44.1" y1="720.5" x2="47.9" y2="720.5" stroke="#000" stroke-width="1.3"/>
<text x="41.6" y="724.4" font-size="11" font-weight="400" text-anchor="end" fill="#111" stroke="#111" stroke-width="0.3" >0</text>
<line x1="44.1" y1="692.2" x2="47.9" y2="692.2" stroke="#000" stroke-width="1.3"/>
<text x="41.6" y="696.1" font-size="11" font-weight="400" text-anchor="end" fill="#111" stroke="#111" stroke-width="0.3" >40</text>
<line x1="44.1" y1="663.9" x2="47.9" y2="663.9" stroke="#000" stroke-width="1.3"/>
<text x="41.6" y="667.8" font-size="11" font-weight="400" text-anchor="end" fill="#111" stroke="#111" stroke-width="0.3" >80</text>
<line x1="44.1" y1="635.5999999999999" x2="47.9" y2="635.5999999999999" stroke="#000" stroke-width="1.3"/>
<text x="41.6" y="639.4999999999999" font-size="11" font-weight="400" text-anchor="end" fill="#111" stroke="#111" stroke-width="0.3" >120</text>
<line x1="44.1" y1="607.3" x2="47.9" y2="607.3" stroke="#000" stroke-width="1.3"/>
<text x="41.6" y="611.1999999999999" font-size="11" font-weight="400" text-anchor="end" fill="#111" stroke="#111" stroke-width="0.3" >160</text>
<line x1="46" y1="720.5" x2="137.5" y2="720.5" stroke="#000" stroke-width="1.5"/>
<line x1="92.3" y1="720.5" x2="92.3" y2="723.7" stroke="#000" stroke-width="1.2"/>
<line x1="137.0" y1="720.5" x2="137.0" y2="723.7" stroke="#000" stroke-width="1.2"/>
<rect x="57.3" y="626.3" width="12.5" height="94.20000000000005" fill="url(#gb)" />
<rect x="69.8" y="651.2" width="12.900000000000006" height="69.29999999999995" fill="url(#go)" />
<path d="M63.55 626.3V620.9M61.349999999999994 620.9H65.75" fill="none" stroke="#6b6b6b" stroke-width="1"/>
<path d="M76.25 651.2V649M74.05 649H78.45" fill="none" stroke="#6b6b6b" stroke-width="1"/>
<rect x="101.9" y="674.5" width="12.5" height="46.0" fill="url(#gb)" />
<rect x="114.4" y="680" width="12.099999999999994" height="40.5" fill="url(#go)" />
<path d="M108.15 674.5V669.5M105.95 669.5H110.35000000000001" fill="none" stroke="#6b6b6b" stroke-width="1"/>
<path d="M120.45 680V677M118.25 677H122.65" fill="none" stroke="#6b6b6b" stroke-width="1"/>
<text x="68.85" y="735.2" font-size="11" font-weight="400" text-anchor="middle" fill="#111" stroke="#111" stroke-width="0.3" >Col I</text>
<text x="115" y="735.2" font-size="11" font-weight="400" text-anchor="middle" fill="#111" stroke="#111" stroke-width="0.3" >Col II</text>
<text x="0" y="0" font-size="11" fill="#111" stroke="#111" stroke-width="0.3" transform="translate(16.2 720.5) rotate(-90)">Avg. no. invasive cells</text>
<path d="M63.9 617.4V614.4H78.1V617.4" fill="none" stroke="#555" stroke-width="1"/>
<text x="71.0" y="616.2" font-size="14.5" font-weight="400" text-anchor="middle" fill="#111" stroke="#111" stroke-width="0.45" >*</text>
<path d="M108.7 662.5V659.5H122.8V662.5" fill="none" stroke="#555" stroke-width="1"/>
<text x="115" y="656.3" font-size="8.7" font-weight="400" text-anchor="middle" fill="#111" stroke="#111" stroke-width="0.12" >N.S.</text>
<text x="164" y="595.5" font-size="16.5" font-weight="700" text-anchor="start" fill="#000" stroke="#000" stroke-width="0.35" >L</text>
<text x="247.1" y="593" font-size="11" font-weight="700" text-anchor="middle" fill="#000" stroke="#000" stroke-width="0.35" >Hu cSCC-13</text>
<line x1="202.8" y1="615.6" x2="202.8" y2="723.3000000000001" stroke="#000" stroke-width="1.5"/>
<line x1="199.0" y1="720.1" x2="202.8" y2="720.1" stroke="#000" stroke-width="1.3"/>
<text x="196.5" y="724.0" font-size="11" font-weight="400" text-anchor="end" fill="#111" stroke="#111" stroke-width="0.3" >0</text>
<line x1="199.0" y1="685.4333333333334" x2="202.8" y2="685.4333333333334" stroke="#000" stroke-width="1.3"/>
<text x="196.5" y="689.3333333333334" font-size="11" font-weight="400" text-anchor="end" fill="#111" stroke="#111" stroke-width="0.3" >50</text>
<line x1="199.0" y1="650.7666666666667" x2="202.8" y2="650.7666666666667" stroke="#000" stroke-width="1.3"/>
<text x="196.5" y="654.6666666666666" font-size="11" font-weight="400" text-anchor="end" fill="#111" stroke="#111" stroke-width="0.3" >100</text>
<line x1="199.0" y1="616.1" x2="202.8" y2="616.1" stroke="#000" stroke-width="1.3"/>
<text x="196.5" y="620.0" font-size="11" font-weight="400" text-anchor="end" fill="#111" stroke="#111" stroke-width="0.3" >150</text>
<line x1="201" y1="720.1" x2="294" y2="720.1" stroke="#000" stroke-width="1.5"/>
<line x1="248.5" y1="720.1" x2="248.5" y2="723.3000000000001" stroke="#000" stroke-width="1.2"/>
<line x1="293.5" y1="720.1" x2="293.5" y2="723.3000000000001" stroke="#000" stroke-width="1.2"/>
<rect x="214.2" y="635" width="12.200000000000017" height="85.10000000000002" fill="url(#gb)" />
<rect x="226.4" y="677" width="13.199999999999989" height="43.10000000000002" fill="url(#go)" />
<path d="M220.3 635V632.4M218.10000000000002 632.4H222.5" fill="none" stroke="#6b6b6b" stroke-width="1"/>
<path d="M233.0 677V674.5M230.8 674.5H235.2" fill="none" stroke="#6b6b6b" stroke-width="1"/>
<rect x="259" y="691.2" width="12.5" height="28.899999999999977" fill="url(#gb)" />
<rect x="271.5" y="693.9" width="12.399999999999977" height="26.200000000000045" fill="url(#go)" />
<path d="M265.25 691.2V685.3M263.05 685.3H267.45" fill="none" stroke="#6b6b6b" stroke-width="1"/>
<path d="M277.7 693.9V692.8M275.5 692.8H279.9" fill="none" stroke="#6b6b6b" stroke-width="1"/>
<text x="227.8" y="735.1" font-size="11" font-weight="400" text-anchor="middle" fill="#111" stroke="#111" stroke-width="0.3" >Col I</text>
<text x="271" y="735.1" font-size="11" font-weight="400" text-anchor="middle" fill="#111" stroke="#111" stroke-width="0.3" >Col II</text>
<text x="0" y="0" font-size="11" fill="#111" stroke="#111" stroke-width="0.3" transform="translate(174.6 723.4) rotate(-90)">Avg. no. invasive cells</text>
<path d="M220 628.3V625.3H234.2V628.3" fill="none" stroke="#555" stroke-width="1"/>
<text x="226.5" y="626.5" font-size="14.5" font-weight="400" text-anchor="middle" fill="#111" stroke="#111" stroke-width="0.45" >*</text>
<path d="M264.2 681.8V678.8H278.5V681.8" fill="none" stroke="#555" stroke-width="1"/>
<text x="270.75" y="675.8" font-size="8.7" font-weight="400" text-anchor="middle" fill="#111" stroke="#111" stroke-width="0.12" >N.S.</text>
<text x="320.8" y="596.5" font-size="16.5" font-weight="700" text-anchor="start" fill="#000" stroke="#000" stroke-width="0.35" >M</text>
<text x="395.4" y="592.5" font-size="11" font-weight="700" text-anchor="middle" fill="#000" stroke="#000" stroke-width="0.35" >Mo cSCC</text>
<line x1="360.3" y1="627.0" x2="360.3" y2="723.2" stroke="#000" stroke-width="1.5"/>
<line x1="356.5" y1="720.0" x2="360.3" y2="720.0" stroke="#000" stroke-width="1.3"/>
<text x="354.0" y="723.9" font-size="11" font-weight="400" text-anchor="end" fill="#111" stroke="#111" stroke-width="0.3" >0</text>
<line x1="356.5" y1="673.75" x2="360.3" y2="673.75" stroke="#000" stroke-width="1.3"/>
<text x="354.0" y="677.65" font-size="11" font-weight="400" text-anchor="end" fill="#111" stroke="#111" stroke-width="0.3" >20</text>
<line x1="356.5" y1="627.5" x2="360.3" y2="627.5" stroke="#000" stroke-width="1.3"/>
<text x="354.0" y="631.4" font-size="11" font-weight="400" text-anchor="end" fill="#111" stroke="#111" stroke-width="0.3" >40</text>
<line x1="358.5" y1="720" x2="459" y2="720" stroke="#000" stroke-width="1.5"/>
<line x1="410.7" y1="720" x2="410.7" y2="723.2" stroke="#000" stroke-width="1.2"/>
<line x1="458.5" y1="720" x2="458.5" y2="723.2" stroke="#000" stroke-width="1.2"/>
<rect x="372.2" y="659.6" width="13.400000000000034" height="60.39999999999998" fill="url(#gb)" />
<rect x="385.6" y="694.2" width="14.399999999999977" height="25.799999999999955" fill="url(#go)" />
<path d="M378.9 659.6V640.1M376.7 640.1H381.09999999999997" fill="none" stroke="#6b6b6b" stroke-width="1"/>
<path d="M392.8 694.2V693.2M390.6 693.2H395.0" fill="none" stroke="#6b6b6b" stroke-width="1"/>
<rect x="421.3" y="708.1" width="13.899999999999977" height="11.899999999999977" fill="url(#gb)" />
<rect x="435.2" y="704.1" width="14.0" height="15.899999999999977" fill="url(#go)" />
<path d="M428.25 708.1V701.2M426.05 701.2H430.45" fill="none" stroke="#6b6b6b" stroke-width="1"/>
<path d="M442.2 704.1V701.2M440.0 701.2H444.4" fill="none" stroke="#6b6b6b" stroke-width="1"/>
<text x="385.6" y="734.8" font-size="11" font-weight="400" text-anchor="middle" fill="#111" stroke="#111" stroke-width="0.3" >Col I</text>
<text x="434.8" y="734.8" font-size="11" font-weight="400" text-anchor="middle" fill="#111" stroke="#111" stroke-width="0.3" >Col II</text>
<text x="0" y="0" font-size="11" fill="#111" stroke="#111" stroke-width="0.3" transform="translate(334 727.1) rotate(-90)">Avg. no. invasive cells</text>
<path d="M377.5 635.3V632.3H391.8V635.3" fill="none" stroke="#555" stroke-width="1"/>
<text x="384.0" y="634.6" font-size="14.5" font-weight="400" text-anchor="middle" fill="#111" stroke="#111" stroke-width="0.45" >*</text>
<path d="M428.1 697.6V694.6H442V697.6" fill="none" stroke="#555" stroke-width="1"/>
<text x="434.4" y="691.5" font-size="8.7" font-weight="400" text-anchor="middle" fill="#111" stroke="#111" stroke-width="0.12" >N.S.</text>
<rect x="447.9" y="611.6" width="70.6" height="50.4" fill="none" stroke="#222" stroke-width="1"/>
<rect x="452.3" y="616.2" width="18.8" height="18.4" fill="url(#gb)" />
<rect x="452.3" y="640.3" width="18.8" height="18.5" fill="url(#go)" />
<text x="477.7" y="628.5" font-size="9" font-weight="400" text-anchor="start" fill="#111" stroke="#111" stroke-width="0.3" >Veh</text>
<text x="477.7" y="652.6" font-size="9" font-weight="400" text-anchor="start" fill="#111" stroke="#111" stroke-width="0.3" >MK-0822</text>
</svg>
</body></html>
